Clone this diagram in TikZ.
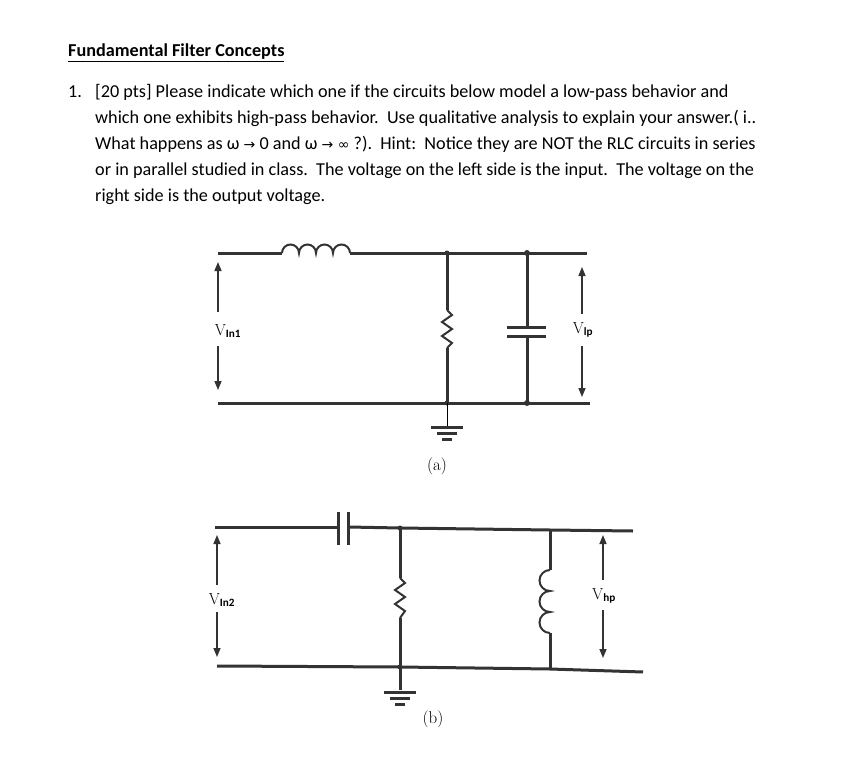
\documentclass[tikz,border=0pt]{standalone}
\usepackage{fontspec}
\setmainfont{Carlito}
\newfontfamily\symf{DejaVu Sans}
\usetikzlibrary{arrows.meta}
\begin{document}
\begin{tikzpicture}[x=1pt,y=-1pt,
  wire/.style={line width=3pt,black!80},
  thin/.style={line width=2pt,black!80},
  varrow/.style={line width=1.5pt,black!80,-{Triangle[length=9pt,width=7pt]}},
  txt/.style={anchor=base west,inner sep=0,font=\fontsize{18.2}{20}\selectfont},
  vl/.style={inner sep=0,font=\fontfamily{lmr}\selectfont\fontsize{16}{18}\selectfont},
  captxt/.style={inner sep=0,font=\fontfamily{lmr}\selectfont\fontsize{17}{19}\selectfont}]
\useasboundingbox (0,0) rectangle (867,778);
\fill[white] (0,0) rectangle (867,778);
% text
\node[txt,font=\bfseries\fontsize{18.2}{20}\selectfont] (title) at (68,57) {\underline{Fundamental Filter Concepts}};
\node[txt] (n1) at (68,98) {1.};
\node[txt] (l1) at (95,98) {[20 pts] Please indicate which one if the circuits below model a low-pass behavior and};
\node[txt] (l2) at (95,124) {which one exhibits high-pass behavior.\ \ Use qualitative analysis to explain your answer.( i..};
\node[txt] (l3) at (95,150) {What happens as ω {\symf\fontsize{14}{16}\selectfont →} 0 and ω {\symf\fontsize{14}{16}\selectfont → ∞} ?).\ \ Hint:\ \ Notice they are NOT the RLC circuits in series};
\node[txt] (l4) at (95,176) {or in parallel studied in class.\ \ The voltage on the left side is the input.\ \ The voltage on the};
\node[txt] (l5) at (95,202) {right side is the output voltage.};
% ---------- circuit (a)
\coordinate (aTL) at (218,253); \coordinate (aL1) at (282,253); \coordinate (aL2) at (350,253);
\coordinate (aJ1) at (447,253); \coordinate (aJ2) at (527,253); \coordinate (aTR) at (587,253);
\coordinate (aBL) at (218,403); \coordinate (aB1) at (447,403); \coordinate (aB2) at (527,403); \coordinate (aBR) at (590,403);
\draw[wire] (aTL) -- (aL1);
\draw[thin] (aL1) arc (180:360:8.5) arc (180:360:8.5) arc (180:360:8.5) arc (180:360:8.5);
\draw[wire] (aL2) -- (aTR);
\draw[wire] (aBL) -- (aBR);
\draw[wire] (aJ1) -- (447,310);
\draw[thin] (447,310) -- (452,315) -- (442,322) -- (452,329) -- (442,336) -- (452,343) -- (447,348);
\draw[wire] (447,348) -- (aB1);
\draw[wire] (aJ2) -- (527,327); \draw[wire] (527,336) -- (aB2);
\draw[wire] (507,327) -- (546,327); \draw[wire] (507,336) -- (546,336);
\fill[black!80] (aJ1) circle (2.5) (aJ2) circle (3) (aB1) circle (2.5) (aB2) circle (3);
\draw[line width=1pt] (aB1) -- (447,427);
\draw[wire] (431,427) -- (463,427); \draw[wire] (437,433) -- (457,433); \draw[wire] (442,439) -- (452,439);
\draw[varrow] (218,312) -- (218,262); \draw[varrow] (218,346) -- (218,390);
\node[vl] (vin1) at (228,331) {V$_{\mathbf{In1}}$};
\draw[varrow] (582,314) -- (582,267); \draw[varrow] (582,346) -- (582,397);
\node[vl] (vlp) at (583,330) {V$_{\mathbf{lp}}$};
\node[captxt] (ca) at (437,466) {(a)};
% ---------- circuit (b)
\coordinate (bTL) at (215,527); \coordinate (bC1) at (338,527); \coordinate (bC2) at (348,527);
\coordinate (bJ1) at (400,528); \coordinate (bJ2) at (550,530); \coordinate (bTR) at (633,531);
\coordinate (bBL) at (217,666); \coordinate (bB1) at (400,667); \coordinate (bB2) at (550,669); \coordinate (bBR) at (643,672);
\draw[wire] (bTL) -- (bC1); \draw[wire] (bC2) -- (bJ1) -- (bJ2) -- (bTR);
\draw[wire] (338,512) -- (338,545); \draw[wire] (348,512) -- (348,545);
\draw[wire] (bBL) -- (bB1) -- (bB2) -- (bBR);
\draw[wire] (bJ1) -- (400,578);
\draw[thin] (400,578) -- (405,583) -- (395,590) -- (405,597) -- (395,604) -- (405,611) -- (400,618);
\draw[wire] (400,618) -- (bB1);
\fill[black!80] (bJ1) circle (2.5) (bB1) circle (2.5);
\draw[wire] (bB1) -- (400,690);
\draw[wire] (384,692) -- (416,692); \draw[wire] (390,698) -- (410,698); \draw[wire] (395,704) -- (405,704);
\draw[wire] (bJ2) -- (550,570);
\draw[thin] (550,570) arc (270:90:10.5) arc (270:90:10.5) arc (270:90:10.5);
\draw[wire] (550,633) -- (bB2);
\draw[varrow] (217,585) -- (217,535); \draw[varrow] (217,612) -- (217,657);
\node[vl] (vin2) at (222,600) {V$_{\mathbf{In2}}$};
\draw[varrow] (603,580) -- (603,535); \draw[varrow] (603,610) -- (603,658);
\node[vl] (vhp) at (604,596) {V$_{\mathbf{hp}}$};
\node[captxt] (cb) at (433,719) {(b)};
\end{tikzpicture}
\end{document}
